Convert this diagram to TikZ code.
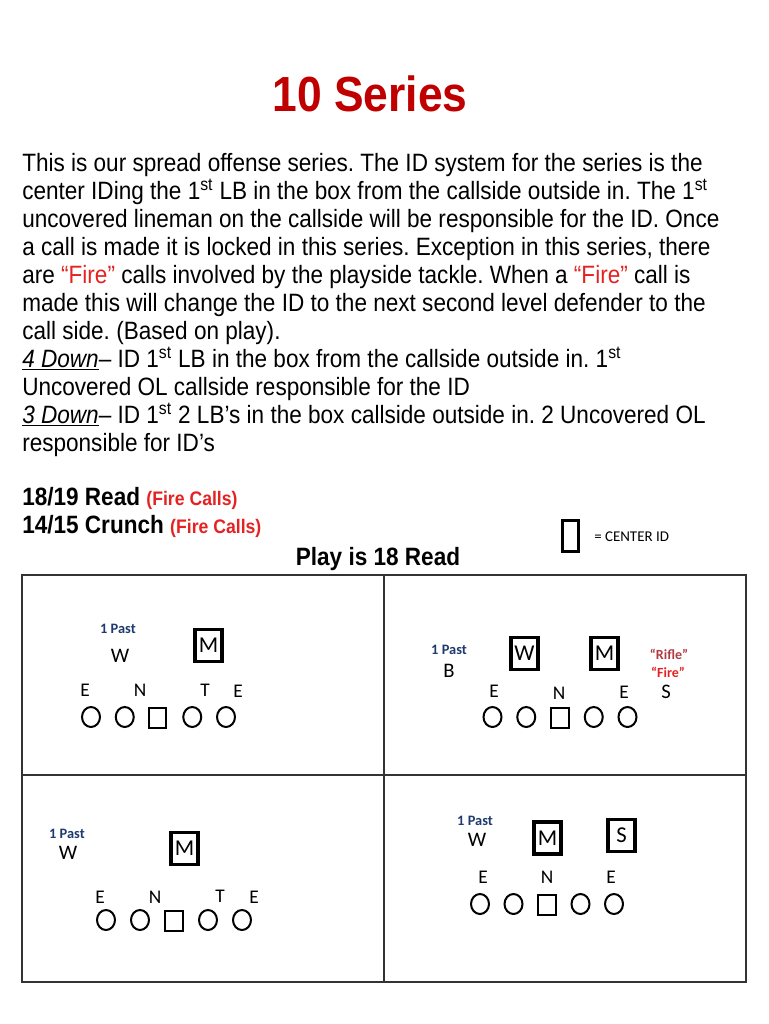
\documentclass[tikz,border=0pt]{standalone}
\usepackage{fontspec}
\setmainfont{Liberation Sans}[FakeStretch=0.9]
\newfontfamily\calfont{Carlito}
\usetikzlibrary{shapes.geometric}
\frenchspacing

\definecolor{titlered}{HTML}{C00000}
\definecolor{firered}{HTML}{E52222}
\definecolor{riflered}{HTML}{B03A42}
\definecolor{pastblue}{HTML}{1F3A6E}

\begin{document}
\begin{tikzpicture}[x=0.75pt, y=-0.75pt,
  txt/.style={anchor=base west, inner sep=0, font=\fontsize{18.8}{22}\selectfont},
  hdr/.style={anchor=base west, inner sep=0, font=\bfseries\fontsize{18.8}{22}\selectfont},
  gridline/.style={draw=black!80, line width=0.9pt},
  lineman/.style={draw, ellipse, line width=1.5pt, minimum width=13.5pt, minimum height=15pt, inner sep=0},
  center/.style={draw, rectangle, line width=1.5pt, minimum width=13pt, minimum height=14.5pt, inner sep=0},
  idbox/.style={draw, rectangle, line width=2.7pt, minimum width=20pt, minimum height=24pt, inner sep=0, font=\calfont\fontsize{17}{17}\selectfont},
  dl/.style={inner sep=0, font=\calfont\fontsize{14.5}{14}\selectfont},
  lb/.style={inner sep=0, font=\calfont\fontsize{15.5}{15}\selectfont},
  past/.style={inner sep=0, text=pastblue, font=\calfont\bfseries\fontsize{10.8}{11}\selectfont},
  call/.style={inner sep=0, font=\calfont\bfseries\fontsize{10.5}{11}\selectfont}]

  \useasboundingbox (0,0) rectangle (768,1024);

  % titel
  \node[anchor=base, inner sep=0, text=titlered, font=\bfseries\fontsize{37}{40}\selectfont] (title) at (370,111) {10 Series};

  % text
  \node[txt] (l1) at (22,171) {This is our spread offense series. The ID system for the series is the};
  \node[txt] (l2) at (22,199) {center IDing the 1\textsuperscript{st} LB in the box from the callside outside in. The 1\textsuperscript{st}};
  \node[txt] (l3) at (22,227) {uncovered lineman on the callside will be responsible for the ID. Once};
  \node[txt] (l4) at (22,255) {a call is made it is locked in this series. Exception in this series, there};
  \node[txt] (l5) at (22,283) {are {\color{firered}“Fire”} calls involved by the playside tackle. When a {\color{firered}“Fire”} call is};
  \node[txt] (l6) at (22,311) {made this will change the ID to the next second level defender to the};
  \node[txt] (l7) at (22,339) {call side. (Based on play).};
  \node[txt] (l8) at (22,367) {\underline{\itshape 4 Down}– ID 1\textsuperscript{st} LB in the box from the callside outside in. 1\textsuperscript{st}};
  \node[txt] (l9) at (22,395) {Uncovered OL callside responsible for the ID};
  \node[txt] (l10) at (22,423) {\underline{\itshape 3 Down}– ID 1\textsuperscript{st} 2 LB’s in the box callside outside in. 2 Uncovered OL};
  \node[txt] (l11) at (22,451) {responsible for ID’s};

  \node[hdr] (read) at (22,505) {18/19 Read {\color{firered}\fontsize{14.7}{17}\selectfont (Fire Calls)}};
  \node[hdr] (crunch) at (22,533) {14/15 Crunch {\color{firered}\fontsize{14.7}{17}\selectfont (Fire Calls)}};
  \node[hdr, anchor=base] (play) at (378,565) {Play is 18 Read};

  % legend
  \node[draw, rectangle, line width=2.2pt, minimum width=12pt, minimum height=23pt, inner sep=0] (key) at (570.5,536) {};
  \node[anchor=west, inner sep=0, font=\calfont\fontsize{11.2}{12}\selectfont] (keytxt) at (594,537) {= CENTER ID};

  % grid
  \coordinate (gNW) at (22,575);
  \coordinate (gSE) at (746,982);
  \draw[gridline] (gNW) rectangle (gSE);
  \draw[gridline] (384,575) -- (384,982);
  \draw[gridline] (22,775) -- (746,775);

  % panel 1
  \node[past] (p1past) at (118,629) {1 Past};
  \node[lb] (p1w) at (120,656) {W};
  \node[idbox] (p1m) at (208.5,645.5) {M};
  \node[dl] (p1e1) at (85,690) {E};
  \node[dl] (p1n) at (140,690) {N};
  \node[dl] (p1t) at (205,690) {T};
  \node[dl] (p1e2) at (238,691) {E};
  \foreach \i in {0,1,3,4}
    \node[lineman] (p1o\i) at (91+\i*33.75,717) {};
  \node[center] (p1c) at (157.5,718) {};

  % panel 2
  \node[past] (p2past) at (449,650) {1 Past};
  \node[lb] (p2b) at (449,671) {B};
  \node[idbox] (p2w) at (524.5,653.5) {W};
  \node[idbox] (p2m) at (604.5,653.5) {M};
  \node[call, text=riflered] (p2rifle) at (669,654) {“Rifle”};
  \node[call, text=firered] (p2fire) at (668,672) {“Fire”};
  \node[dl] (p2e1) at (494,691) {E};
  \node[dl] (p2n) at (559,693) {N};
  \node[dl] (p2e2) at (624,692) {E};
  \node[lb] (p2s) at (666,692) {S};
  \foreach \i in {0,1,3,4}
    \node[lineman] (p2o\i) at (492.5+\i*33.75,717) {};
  \node[center] (p2c) at (560,718) {};

  % panel 3
  \node[past] (p3past) at (67,834) {1 Past};
  \node[lb] (p3w) at (68,853) {W};
  \node[idbox] (p3m) at (184.5,848.5) {M};
  \node[dl] (p3e1) at (100,897) {E};
  \node[dl] (p3n) at (155,897) {N};
  \node[dl] (p3t) at (220,896) {T};
  \node[dl] (p3e2) at (254,897) {E};
  \foreach \i in {0,1,3,4}
    \node[lineman] (p3o\i) at (106+\i*34,920) {};
  \node[center] (p3c) at (174,921) {};

  % panel 4
  \node[past] (p4past) at (475,821) {1 Past};
  \node[lb] (p4w) at (477,840) {W};
  \node[idbox] (p4m) at (547.5,838) {M};
  \node[idbox] (p4s) at (621.5,835.5) {S};
  \node[dl] (p4e1) at (483,877) {E};
  \node[dl] (p4n) at (547,877) {N};
  \node[dl] (p4e2) at (611,877) {E};
  \foreach \i in {0,1,3,4}
    \node[lineman] (p4o\i) at (480+\i*33.5,904) {};
  \node[center] (p4c) at (547,905) {};
\end{tikzpicture}
\end{document}
